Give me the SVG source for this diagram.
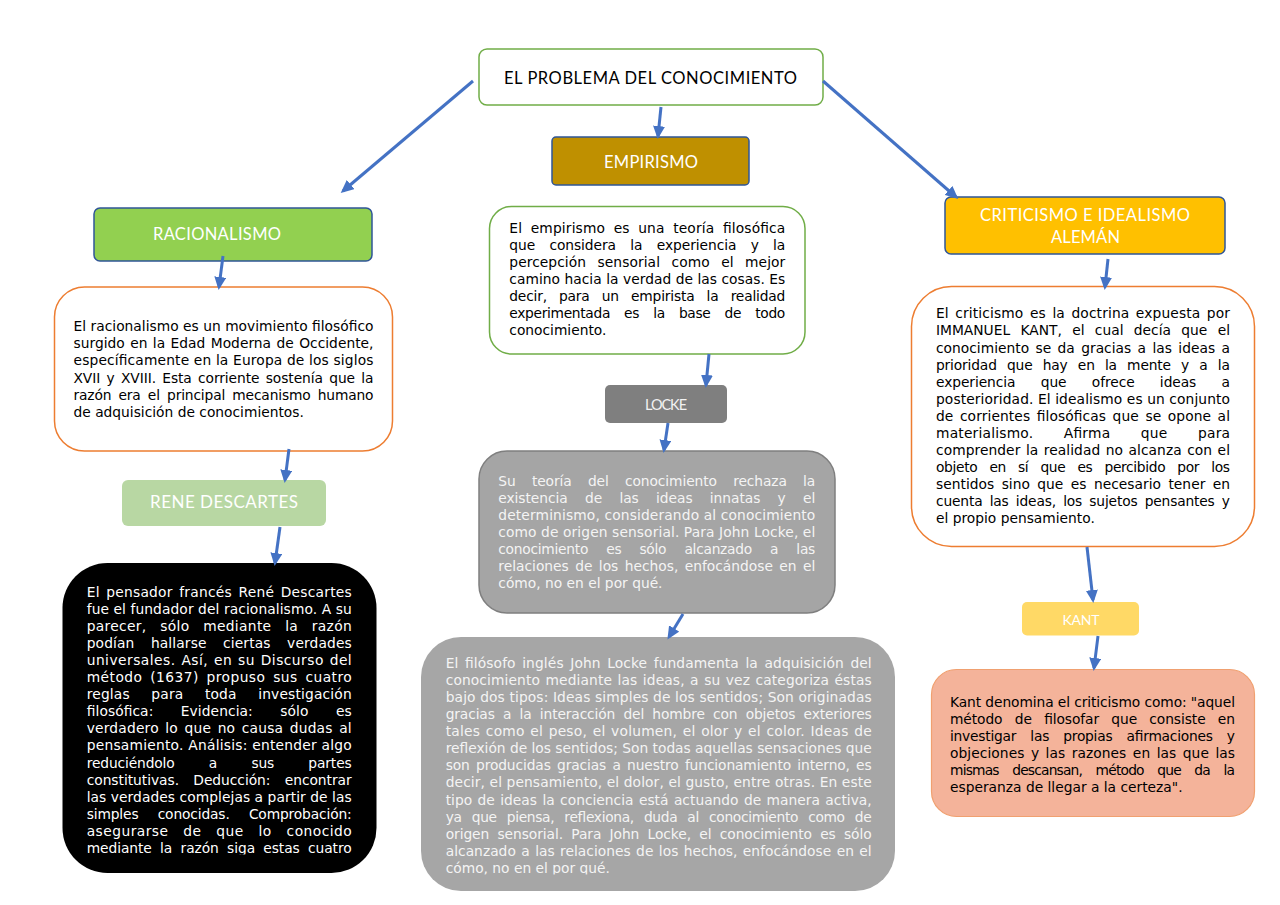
<svg xmlns="http://www.w3.org/2000/svg" width="1280" height="905" viewBox="0 0 1280 905">
<style>
.body{font-family:"DejaVu Sans",Verdana,sans-serif;font-size:13.8px;fill:#000}
.w{fill:#FFFFFF}
.lw{fill:#F4F4F4}
.lbl{font-family:Lato,"Open Sans",sans-serif;fill:#FFFFFF;text-anchor:middle}
.conn line{stroke:#4472C4;stroke-width:3;marker-end:url(#ah)}
</style>
<defs>
<marker id="ah" markerUnits="userSpaceOnUse" markerWidth="14" markerHeight="12" refX="10" refY="6" orient="auto">
<path d="M0,0 L13,6 L0,12 z" fill="#4472C4"/>
</marker>
<clipPath id="clipBlack"><rect x="60" y="560" width="320" height="294.5"/></clipPath>
<clipPath id="clipGrey"><rect x="420" y="636" width="480" height="238.5"/></clipPath>
</defs>
<rect width="1280" height="905" fill="#FFFFFF"/>

<g id="title">
<rect x="479" y="49" width="344" height="56" rx="8" fill="#FFFFFF" stroke="#70AD47" stroke-width="1.5"/>
<text x="650.5" y="84" class="lbl" style="fill:#000" font-size="16.5" textLength="293" lengthAdjust="spacing">EL PROBLEMA DEL CONOCIMIENTO</text>
</g>

<g id="racionalismo">
<rect x="94" y="208" width="278" height="53" rx="6" fill="#92D050" stroke="#2F5597" stroke-width="1.5"/>
<text x="217" y="240" class="lbl" font-size="16.5" textLength="128" lengthAdjust="spacing">RACIONALISMO</text>
</g>

<g id="racionalismo-text">
<rect x="54.5" y="287" width="338" height="164" rx="30" fill="#FFFFFF" stroke="#ED7D31" stroke-width="1.5"/>
<text class="body" x="73.5" y="331" textLength="300" lengthAdjust="spacing">El racionalismo es un movimiento filosófico</text>
<text class="body" x="73.5" y="348.2" textLength="300" lengthAdjust="spacing" word-spacing="1">surgido en la Edad Moderna de Occidente,</text>
<text class="body" x="73.5" y="365.4" textLength="300" lengthAdjust="spacing">específicamente en la Europa de los siglos</text>
<text class="body" x="73.5" y="382.6" textLength="300" lengthAdjust="spacing" word-spacing="2">XVII y XVIII. Esta corriente sostenía que la</text>
<text class="body" x="73.5" y="399.8" textLength="300" lengthAdjust="spacing" word-spacing="3">razón era el principal mecanismo humano</text>
<text class="body" x="73.5" y="417">de adquisición de conocimientos.</text>
</g>

<g id="rene-descartes">
<rect x="122" y="480" width="204" height="46" rx="6" fill="#B8D7A3"/>
<text x="224" y="508" class="lbl" font-size="17" textLength="148" lengthAdjust="spacing">RENE DESCARTES</text>
</g>

<g id="descartes-text">
<rect x="62.5" y="563" width="314" height="310" rx="45" fill="#000000"/>
<g clip-path="url(#clipBlack)">
<text class="body w" x="86.7" y="596.5" textLength="265" lengthAdjust="spacing" word-spacing="2">El pensador francés René Descartes</text>
<text class="body w" x="86.7" y="613.6" textLength="265" lengthAdjust="spacing">fue el fundador del racionalismo. A su</text>
<text class="body w" x="86.7" y="630.7" textLength="265" lengthAdjust="spacing" word-spacing="9">parecer, sólo mediante la razón</text>
<text class="body w" x="86.7" y="647.8" textLength="265" lengthAdjust="spacing" word-spacing="12">podían hallarse ciertas verdades</text>
<text class="body w" x="86.7" y="664.9" textLength="265" lengthAdjust="spacing" word-spacing="1">universales. Así, en su Discurso del</text>
<text class="body w" x="86.7" y="682" textLength="265" lengthAdjust="spacing" word-spacing="3">método (1637) propuso sus cuatro</text>
<text class="body w" x="86.7" y="699.1" textLength="265" lengthAdjust="spacing" word-spacing="17">reglas para toda investigación</text>
<text class="body w" x="86.7" y="716.2" textLength="265" lengthAdjust="spacing" word-spacing="23">filosófica: Evidencia: sólo es</text>
<text class="body w" x="86.7" y="733.3" textLength="265" lengthAdjust="spacing" word-spacing="2">verdadero lo que no causa dudas al</text>
<text class="body w" x="86.7" y="750.4" textLength="265" lengthAdjust="spacing">pensamiento. Análisis: entender algo</text>
<text class="body w" x="86.7" y="767.5" textLength="265" lengthAdjust="spacing" word-spacing="30">reduciéndolo a sus partes</text>
<text class="body w" x="86.7" y="784.6" textLength="265" lengthAdjust="spacing" word-spacing="10">constitutivas. Deducción: encontrar</text>
<text class="body w" x="86.7" y="801.7" textLength="265" lengthAdjust="spacing">las verdades complejas a partir de las</text>
<text class="body w" x="86.7" y="818.8" textLength="265" lengthAdjust="spacing" word-spacing="15">simples conocidas. Comprobación:</text>
<text class="body w" x="86.7" y="835.9" textLength="265" lengthAdjust="spacing" word-spacing="10">asegurarse de que lo conocido</text>
<text class="body w" x="86.7" y="853" textLength="265" lengthAdjust="spacing" word-spacing="4">mediante la razón siga estas cuatro</text>
</g>
</g>

<g id="empirismo">
<rect x="552" y="137" width="197" height="48" rx="4" fill="#BF9000" stroke="#2F5597" stroke-width="1.5"/>
<text x="651" y="168" class="lbl" font-size="16.5" textLength="94" lengthAdjust="spacing">EMPIRISMO</text>
</g>

<g id="empirismo-text">
<rect x="489.5" y="206.5" width="315.5" height="147.5" rx="22" fill="#FFFFFF" stroke="#70AD47" stroke-width="1.5"/>
<text class="body" x="509.3" y="233" textLength="276" lengthAdjust="spacing" word-spacing="4">El empirismo es una teoría filosófica</text>
<text class="body" x="509.3" y="250" textLength="276" lengthAdjust="spacing" word-spacing="10">que considera la experiencia y la</text>
<text class="body" x="509.3" y="267" textLength="276" lengthAdjust="spacing" word-spacing="7">percepción sensorial como el mejor</text>
<text class="body" x="509.3" y="284" textLength="276" lengthAdjust="spacing">camino hacia la verdad de las cosas. Es</text>
<text class="body" x="509.3" y="301" textLength="276" lengthAdjust="spacing" word-spacing="8">decir, para un empirista la realidad</text>
<text class="body" x="509.3" y="318" textLength="276" lengthAdjust="spacing" word-spacing="10">experimentada es la base de todo</text>
<text class="body" x="509.3" y="335">conocimiento.</text>
</g>

<g id="locke">
<rect x="605" y="385" width="122" height="38" rx="5" fill="#7F7F7F"/>
<text x="666" y="410" class="lbl" font-size="14.5" textLength="42" lengthAdjust="spacing" style="fill:#F2F2F2">LOCKE</text>
</g>

<g id="locke-text">
<rect x="479" y="451" width="356" height="162" rx="28" fill="#A5A5A5" stroke="#7F7F7F" stroke-width="1.5"/>
<text class="body lw" x="498.3" y="485.7" textLength="317" lengthAdjust="spacing" word-spacing="12">Su teoría del conocimiento rechaza la</text>
<text class="body lw" x="498.3" y="502.8" textLength="317" lengthAdjust="spacing" word-spacing="13">existencia de las ideas innatas y el</text>
<text class="body lw" x="498.3" y="519.8" textLength="317" lengthAdjust="spacing">determinismo, considerando al conocimiento</text>
<text class="body lw" x="498.3" y="536.9" textLength="317" lengthAdjust="spacing">como de origen sensorial. Para John Locke, el</text>
<text class="body lw" x="498.3" y="553.9" textLength="317" lengthAdjust="spacing" word-spacing="14">conocimiento es sólo alcanzado a las</text>
<text class="body lw" x="498.3" y="571" textLength="317" lengthAdjust="spacing" word-spacing="2">relaciones de los hechos, enfocándose en el</text>
<text class="body lw" x="498.3" y="588">cómo, no en el por qué.</text>
</g>

<g id="locke-ideas">
<rect x="421" y="637" width="474" height="254" rx="40" fill="#A6A6A6"/>
<g clip-path="url(#clipGrey)">
<text class="body lw" x="445.7" y="667.7" textLength="426" lengthAdjust="spacing" word-spacing="2">El filósofo inglés John Locke fundamenta la adquisición del</text>
<text class="body lw" x="445.7" y="684.8" textLength="426" lengthAdjust="spacing" word-spacing="1">conocimiento mediante las ideas, a su vez categoriza éstas</text>
<text class="body lw" x="445.7" y="701.9" textLength="426" lengthAdjust="spacing">bajo dos tipos: Ideas simples de los sentidos; Son originadas</text>
<text class="body lw" x="445.7" y="719" textLength="426" lengthAdjust="spacing" word-spacing="4">gracias a la interacción del hombre con objetos exteriores</text>
<text class="body lw" x="445.7" y="736.1" textLength="426" lengthAdjust="spacing" word-spacing="1">tales como el peso, el volumen, el olor y el color.  Ideas de</text>
<text class="body lw" x="445.7" y="753.2" textLength="426" lengthAdjust="spacing">reflexión de los sentidos; Son todas aquellas sensaciones que</text>
<text class="body lw" x="445.7" y="770.3" textLength="426" lengthAdjust="spacing" word-spacing="2">son producidas gracias a nuestro funcionamiento interno, es</text>
<text class="body lw" x="445.7" y="787.4" textLength="426" lengthAdjust="spacing">decir, el pensamiento, el dolor, el gusto, entre otras. En este</text>
<text class="body lw" x="445.7" y="804.5" textLength="426" lengthAdjust="spacing" word-spacing="1">tipo de ideas la conciencia está actuando de manera activa,</text>
<text class="body lw" x="445.7" y="821.6" textLength="426" lengthAdjust="spacing" word-spacing="6">ya que piensa, reflexiona, duda al conocimiento como de</text>
<text class="body lw" x="445.7" y="838.7" textLength="426" lengthAdjust="spacing" word-spacing="4">origen sensorial. Para John Locke, el conocimiento es sólo</text>
<text class="body lw" x="445.7" y="855.8" textLength="426" lengthAdjust="spacing" word-spacing="1">alcanzado a las relaciones de los hechos, enfocándose en el</text>
<text class="body lw" x="445.7" y="872.9">cómo, no en el por qué.</text>
</g>
</g>

<g id="criticismo">
<rect x="945" y="197" width="280" height="57" rx="6" fill="#FFC000" stroke="#2F5597" stroke-width="1.5"/>
<text x="1085" y="221" class="lbl" font-size="16.5" textLength="210" lengthAdjust="spacing">CRITICISMO E IDEALISMO</text>
<text x="1085.5" y="243" class="lbl" font-size="16.5" textLength="69" lengthAdjust="spacing">ALEMÁN</text>
</g>

<g id="criticismo-text">
<rect x="911.5" y="286.5" width="343" height="260" rx="40" fill="#FFFFFF" stroke="#ED7D31" stroke-width="1.5"/>
<text class="body" x="936" y="318.3" textLength="294" lengthAdjust="spacing" word-spacing="2">El criticismo es la doctrina expuesta por</text>
<text class="body" x="936" y="335.4" textLength="294" lengthAdjust="spacing" word-spacing="6">IMMANUEL KANT, el cual decía que el</text>
<text class="body" x="936" y="352.5" textLength="294" lengthAdjust="spacing" word-spacing="2">conocimiento se da gracias a las ideas a</text>
<text class="body" x="936" y="369.5" textLength="294" lengthAdjust="spacing" word-spacing="6">prioridad que hay en la mente y a la</text>
<text class="body" x="936" y="386.6" textLength="294" lengthAdjust="spacing" word-spacing="21">experiencia que ofrece ideas a</text>
<text class="body" x="936" y="403.7" textLength="294" lengthAdjust="spacing">posterioridad. El idealismo es un conjunto</text>
<text class="body" x="936" y="420.8" textLength="294" lengthAdjust="spacing" word-spacing="2">de corrientes filosóficas que se opone al</text>
<text class="body" x="936" y="437.9" textLength="294" lengthAdjust="spacing" word-spacing="26">materialismo. Afirma que para</text>
<text class="body" x="936" y="455" textLength="294" lengthAdjust="spacing" word-spacing="1">comprender la realidad no alcanza con el</text>
<text class="body" x="936" y="472" textLength="294" lengthAdjust="spacing" word-spacing="8">objeto en sí que es percibido por los</text>
<text class="body" x="936" y="489.1" textLength="294" lengthAdjust="spacing" word-spacing="3">sentidos sino que es necesario tener en</text>
<text class="body" x="936" y="506.2" textLength="294" lengthAdjust="spacing" word-spacing="3">cuenta las ideas, los sujetos pensantes y</text>
<text class="body" x="936" y="523.3">el propio pensamiento.</text>
</g>

<g id="kant">
<rect x="1022" y="602" width="117" height="33.5" rx="5" fill="#FFD966"/>
<text x="1081" y="625" class="lbl" font-size="14" textLength="37" lengthAdjust="spacing">KANT</text>
</g>

<g id="kant-text">
<rect x="931.5" y="669.5" width="323" height="147" rx="25" fill="#F4B39A" stroke="#F0A070" stroke-width="1.2"/>
<text class="body" x="950" y="706.7" textLength="285" lengthAdjust="spacing">Kant denomina el criticismo como: "aquel</text>
<text class="body" x="950" y="723.7" textLength="285" lengthAdjust="spacing" word-spacing="8">método de filosofar que consiste en</text>
<text class="body" x="950" y="740.7" textLength="285" lengthAdjust="spacing" word-spacing="10">investigar las propias afirmaciones y</text>
<text class="body" x="950" y="757.7" textLength="285" lengthAdjust="spacing" word-spacing="2">objeciones y las razones en las que las</text>
<text class="body" x="950" y="774.7" textLength="285" lengthAdjust="spacing" word-spacing="10">mismas descansan, método que da la</text>
<text class="body" x="950" y="791.7">esperanza de llegar a la certeza".</text>
</g>

<g id="connectors" class="conn">
<line x1="473" y1="81" x2="343" y2="191"/>
<line x1="661" y1="107" x2="658" y2="136"/>
<line x1="823" y1="81" x2="956" y2="197"/>
<line x1="223" y1="256" x2="219" y2="287"/>
<line x1="289" y1="449" x2="285" y2="480"/>
<line x1="280" y1="527" x2="275" y2="563"/>
<line x1="709" y1="354" x2="706" y2="385"/>
<line x1="668" y1="423" x2="664" y2="450"/>
<line x1="683" y1="614" x2="669" y2="637"/>
<line x1="1108" y1="259" x2="1105" y2="287"/>
<line x1="1087" y1="547" x2="1093" y2="600"/>
<line x1="1098" y1="636" x2="1094" y2="668"/>
</g>
</svg>
